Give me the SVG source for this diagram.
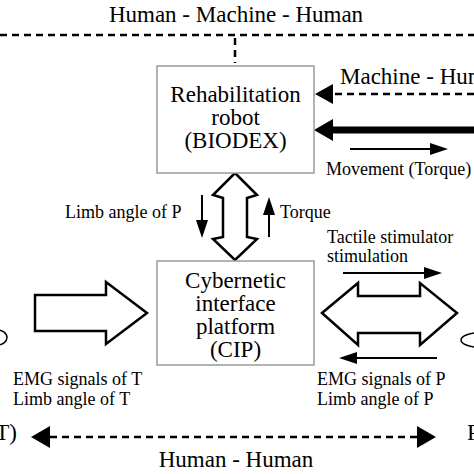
<svg xmlns="http://www.w3.org/2000/svg" width="474" height="474" viewBox="0 0 474 474">
<style>
text{font-family:"Liberation Serif","Times New Roman",serif;fill:#000}
.big{font-size:23px}
.sm{font-size:18px}
.mid{text-anchor:middle}
.box{fill:#fff;stroke:#9a9a9a;stroke-width:1.5}
.blk{fill:#fff;stroke:#000;stroke-width:2.5;stroke-linejoin:miter}
.dash{fill:none;stroke:#000;stroke-width:2.5;stroke-dasharray:7,5}
.thin{fill:none;stroke:#000;stroke-width:2}
.thick{fill:none;stroke:#000;stroke-width:7}
.ell{fill:none;stroke:#000;stroke-width:1.5}
</style>
<defs>
<marker id="hs" markerUnits="userSpaceOnUse" viewBox="0 -6 18 12" markerWidth="18" markerHeight="12" refX="0" refY="0" orient="auto-start-reverse"><path d="M0,-6 L18,0 L0,6 z" fill="#000"/></marker>
<marker id="hd" markerUnits="userSpaceOnUse" viewBox="0 -10 18 20" markerWidth="18" markerHeight="20" refX="0" refY="0" orient="auto-start-reverse"><path d="M0,-10 L18,0 L0,10 z" fill="#000"/></marker>
<marker id="hk" markerUnits="userSpaceOnUse" viewBox="0 -11 19 22" markerWidth="19" markerHeight="22" refX="0" refY="0" orient="auto-start-reverse"><path d="M0,-11 L19,0 L0,11 z" fill="#000"/></marker>
</defs>

<text class="big mid" x="236" y="22">Human - Machine - Human</text>
<text class="big" x="340" y="84">Machine - Human</text>
<text class="sm" x="326" y="175">Movement (Torque)</text>
<text class="sm" x="65" y="218">Limb angle of P</text>
<text class="sm" x="280" y="218">Torque</text>
<text class="sm" x="327" y="243">Tactile stimulator</text>
<text class="sm" x="327" y="262">stimulation</text>
<text class="sm" x="13" y="385">EMG signals of T</text>
<text class="sm" x="13" y="405">Limb angle of T</text>
<text class="sm" x="317" y="385">EMG signals of P</text>
<text class="sm" x="317" y="405">Limb angle of P</text>
<text class="big" x="17" y="440" text-anchor="end">T)</text>
<text class="big" x="467" y="440">P</text>
<text class="big mid" x="236" y="467">Human - Human</text>

<g id="connectors">
<path class="dash" d="M0,35 H474"/>
<path class="dash" d="M235,38 V63"/>
<path class="dash" d="M474,94 H333" marker-end="url(#hd)" stroke-dasharray="6,5"/>
<path class="thick" d="M474,130 H333" marker-end="url(#hk)"/>
<path class="thin" d="M350,149 H430" marker-end="url(#hs)"/>
<path class="thin" d="M202,195 V220" marker-end="url(#hs)"/>
<path class="thin" d="M269,237 V215" marker-end="url(#hs)"/>
<path class="thin" d="M343,273 H424" marker-end="url(#hs)"/>
<path class="thin" d="M437,358 H357" marker-end="url(#hs)"/>
<path class="dash" d="M50,437 H417" marker-start="url(#hk)" marker-end="url(#hk)" stroke-dasharray="6,5"/>
<polygon class="blk" points="235,173 257,195 247,198 247,237 257,239 235,260 213,239 223,237 223,198 213,195"/>
<polygon class="blk" points="35,295 106,295 106,282 147,313 106,344 106,331 35,331"/>
<polygon class="blk" points="322,313 358,283 358,296 420,296 420,283 457,313 420,345 420,333 358,333 358,345"/>
</g>

<g id="robot">
<rect class="box" x="157" y="66" width="157" height="107"/>
<text class="big mid" x="235.5" y="102">Rehabilitation</text>
<text class="big mid" x="235.5" y="125">robot</text>
<text class="big mid" x="235.5" y="148">(BIODEX)</text>
</g>

<g id="cip">
<rect class="box" x="157" y="261" width="157" height="104"/>
<text class="big mid" x="235.5" y="288">Cybernetic</text>
<text class="big mid" x="235.5" y="311">interface</text>
<text class="big mid" x="235.5" y="334">platform</text>
<text class="big mid" x="235.5" y="357">(CIP)</text>
</g>

<g id="therapist">
<ellipse class="ell" cx="-3" cy="337.5" rx="10" ry="7.5"/>
</g>
<g id="patient">
<ellipse class="ell" cx="481" cy="340" rx="20" ry="7.5"/>
</g>
</svg>
